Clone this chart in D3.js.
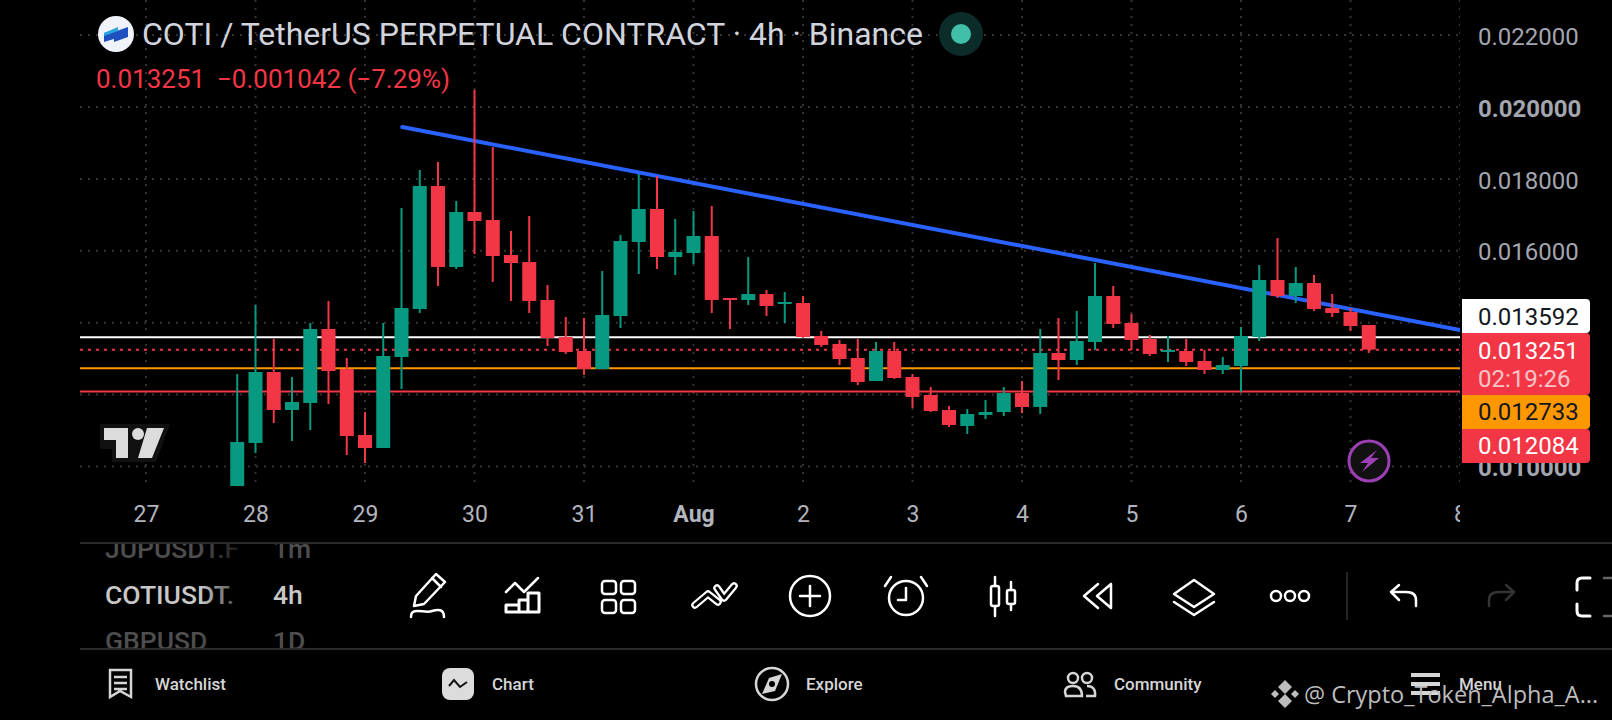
<!DOCTYPE html>
<html>
<head>
<meta charset="utf-8">
<title>COTIUSDT.P 4h</title>
<script src="https://cdn.jsdelivr.net/npm/d3@7"></script>
<style>
html, body { margin: 0; padding: 0; background: #000; overflow: hidden; }
svg { display: block; }
text { font-family: Roboto, sans-serif; }
</style>
</head>
<body>
<div id="chart"></div>
<script>
//--data--
var firstCandle = "2025-07-27T20:00:00Z";
var candleOpen = [
	0.009458, 0.010654, 0.012629, 0.011572, 0.011766, 0.013825, 0.012712, 0.010876, 0.010515, 0.013046, 0.014381,
	0.017802, 0.015549, 0.017079, 0.016857, 0.015883, 0.015688, 0.014631, 0.013602, 0.013213, 0.012712, 0.014186,
	0.016245, 0.017163, 0.015827, 0.015939, 0.016412, 0.014687, 0.014631, 0.014798, 0.014520, 0.014548, 0.013630,
	0.013408, 0.013018, 0.012378, 0.013213, 0.012490, 0.011989, 0.011572, 0.011127, 0.011433, 0.011516, 0.012044,
	0.011655, 0.013157, 0.012962, 0.013463, 0.014743, 0.013992, 0.013547, 0.013213, 0.013213, 0.012935, 0.012684,
	0.012796, 0.013602, 0.015188, 0.014743, 0.015104, 0.014409, 0.014298, 0.013936
];
var candleClose = [
	0.010681, 0.012629, 0.011572, 0.011794, 0.013825, 0.012656, 0.010848, 0.010515, 0.013074, 0.014409, 0.017802,
	0.015549, 0.017079, 0.016829, 0.015855, 0.015660, 0.014604, 0.013574, 0.013185, 0.012712, 0.014214, 0.016272,
	0.017163, 0.015827, 0.015967, 0.016412, 0.014631, 0.014631, 0.014798, 0.014464, 0.014576, 0.013602, 0.013380,
	0.012990, 0.012350, 0.013213, 0.012462, 0.011933, 0.011544, 0.011154, 0.011460, 0.011516, 0.012044, 0.011655,
	0.013157, 0.012962, 0.013491, 0.014743, 0.013964, 0.013519, 0.013129, 0.013241, 0.012907, 0.012684, 0.012823,
	0.013630, 0.015188, 0.014743, 0.015104, 0.014381, 0.014270, 0.013908, 0.013251
];
var candleHigh = [
	0.012573, 0.014492, 0.013547, 0.012490, 0.013992, 0.014604, 0.013018, 0.011516, 0.013992, 0.017190, 0.018247,
	0.018470, 0.017385, 0.020473, 0.018887, 0.016551, 0.016968, 0.015049, 0.014158, 0.014131, 0.015438, 0.016439,
	0.018136, 0.018081, 0.016884, 0.017107, 0.017246, 0.014687, 0.015827, 0.014910, 0.014854, 0.014743, 0.013769,
	0.013519, 0.013547, 0.013463, 0.013463, 0.012573, 0.012211, 0.011683, 0.011599, 0.011850, 0.012211, 0.012378,
	0.013825, 0.014131, 0.014325, 0.015660, 0.015021, 0.014242, 0.013658, 0.013630, 0.013547, 0.013241, 0.013046,
	0.013880, 0.015605, 0.016356, 0.015549, 0.015327, 0.014798, 0.014409, 0.013936
];
var candleLow = [
	0.009458, 0.010376, 0.011210, 0.010709, 0.011015, 0.011739, 0.010320, 0.010097, 0.010515, 0.012156, 0.014270,
	0.015021, 0.015494, 0.015911, 0.015132, 0.014604, 0.014270, 0.013352, 0.013129, 0.012545, 0.012712, 0.013853,
	0.015355, 0.015494, 0.015327, 0.015633, 0.014270, 0.013825, 0.014492, 0.014186, 0.013992, 0.013574, 0.013324,
	0.012823, 0.012267, 0.012378, 0.012434, 0.011627, 0.011516, 0.011099, 0.010904, 0.011321, 0.011405, 0.011488,
	0.011460, 0.012406, 0.012823, 0.013241, 0.013853, 0.013241, 0.013074, 0.012907, 0.012796, 0.012573, 0.012573,
	0.012072, 0.013491, 0.014687, 0.014548, 0.014325, 0.014158, 0.013769, 0.013157
];

var priceTicks = [0.010, 0.012, 0.014, 0.016, 0.018, 0.020, 0.022];
var hiddenPriceLabels = [0.012, 0.014]; // these sit under the price tags
var dayTicks = ["2025-07-27", "2025-07-28", "2025-07-29", "2025-07-30", "2025-07-31", "2025-08-01", "2025-08-02",
	"2025-08-03", "2025-08-04", "2025-08-05", "2025-08-06", "2025-08-07", "2025-08-08"];

var levelWhite = 0.013592, levelLast = 0.013251, levelOrange = 0.012733, levelRed = 0.012084;
var countdown = "02:19:26";

var trendTimes = ["2025-07-29T08:10:00Z", "2025-08-08T00:00:00Z"];
var trendPrices = [0.019444, 0.013797];

var symbolRows = ["JUPUSDT.F", "COTIUSDT.", "GBPUSD"];
var symbolFrames = ["1m", "4h", "1D"];
var navLabels = ["Watchlist", "Chart", "Explore", "Community", "Menu"];

//--sizes--
var width = 1612, height = 720;
var plotLeft = 80, plotRight = 1460, plotBottom = 482;
var red = "#f23645", green = "#089981", orange = "#ff9800", blue = "#2962ff";

var svg = d3.select("#chart").append("svg")
	.attr("width", width)
	.attr("height", height)
	.style("background", "#000");

var parseTime = function (s) { return new Date(s.length > 10 ? s : s + "T00:00:00Z"); };

var x = d3.scaleUtc()
	.domain([parseTime(dayTicks[0]), parseTime(dayTicks[dayTicks.length - 1])])
	.range([146, plotRight]);

var y = d3.scaleLinear()
	.domain([0.010, 0.020])
	.range([466.5, 107]);

var defs = svg.append("defs");
defs.append("clipPath").attr("id", "plot-clip")
	.append("rect").attr("x", plotLeft).attr("y", 0).attr("width", plotRight - plotLeft).attr("height", 528);

var plot = svg.append("g").attr("clip-path", "url(#plot-clip)");

//grid
plot.append("g").selectAll("line").data(priceTicks).join("line")
	.attr("x1", plotLeft).attr("x2", plotRight)
	.attr("y1", function (d) { return y(d); }).attr("y2", function (d) { return y(d); })
	.attr("stroke", "#333").attr("stroke-width", 2).attr("stroke-dasharray", "2 6");

plot.append("g").selectAll("line").data(dayTicks).join("line")
	.attr("x1", function (d) { return x(parseTime(d)); }).attr("x2", function (d) { return x(parseTime(d)); })
	.attr("y1", 0).attr("y2", plotBottom)
	.attr("stroke", "#333").attr("stroke-width", 2).attr("stroke-dasharray", "2 6");

//levels
var levels = [
	{ p: levelWhite, c: "#fff", dash: null },
	{ p: levelLast, c: red, dash: "3 5" },
	{ p: levelOrange, c: orange, dash: null },
	{ p: levelRed, c: red, dash: null }
];
plot.append("g").selectAll("line").data(levels).join("line")
	.attr("x1", plotLeft).attr("x2", plotRight)
	.attr("y1", function (d) { return y(d.p); }).attr("y2", function (d) { return y(d.p); })
	.attr("stroke", function (d) { return d.c; })
	.attr("stroke-width", 2)
	.attr("stroke-dasharray", function (d) { return d.dash; });

//trend line
plot.append("line")
	.attr("x1", x(parseTime(trendTimes[0]))).attr("y1", y(trendPrices[0]))
	.attr("x2", x(parseTime(trendTimes[1]))).attr("y2", y(trendPrices[1]))
	.attr("stroke", blue).attr("stroke-width", 4).attr("stroke-linecap", "round");

//candles
var candles = candleOpen.map(function (o, i) {
	return {
		t: d3.utcHour.offset(parseTime(firstCandle), i * 4),
		o: o, c: candleClose[i], h: candleHigh[i], l: candleLow[i]
	};
});
var bodyWidth = 14;
var candle = plot.append("g").selectAll("g").data(candles).join("g")
	.attr("fill", function (d) { return d.c >= d.o ? green : red; });
candle.append("rect")
	.attr("x", function (d) { return x(d.t) - 1; })
	.attr("width", 2)
	.attr("y", function (d) { return y(d.h); })
	.attr("height", function (d) { return y(d.l) - y(d.h); });
candle.append("rect")
	.attr("x", function (d) { return x(d.t) - bodyWidth / 2; })
	.attr("width", bodyWidth)
	.attr("y", function (d) { return y(Math.max(d.o, d.c)); })
	.attr("height", function (d) { return Math.max(2, Math.abs(y(d.o) - y(d.c))); });

//axes
var yAxis = d3.axisRight(y)
	.tickValues(priceTicks.filter(function (d) { return hiddenPriceLabels.indexOf(d) < 0; }))
	.tickSize(0).tickPadding(0).tickFormat(d3.format(".6f"));
var yG = svg.append("g").attr("transform", "translate(1478,1.5)").call(yAxis);
yG.select(".domain").remove();
yG.selectAll("text")
	.style("font-family", "Roboto, sans-serif")
	.style("font-size", "24px")
	.attr("fill", "#a3a6af")
	.style("font-weight", function (d) { return d === 0.020 || d === 0.010 ? 700 : 400; });

var xAxis = d3.axisBottom(x).tickValues(dayTicks.map(parseTime)).tickSize(0).tickPadding(0)
	.tickFormat(function (d) {
		if (d.getUTCDate() === 1) return "Aug";
		return d.getUTCDate();
	});
var xClip = svg.append("g").attr("clip-path", "url(#plot-clip)");
var xG = xClip.append("g").attr("transform", "translate(0,506)").call(xAxis);
xG.select(".domain").remove();
xG.selectAll("text")
	.style("font-family", "Roboto, sans-serif")
	.style("font-size", "23px")
	.attr("fill", "#b2b5be")
	.style("font-weight", function (d) { return d.getUTCDate() === 1 ? 700 : 400; });

//price tags, stacked so they do not overlap
function rightRound(x0, y0, w, h, r) {
	return "M" + x0 + "," + y0 + "H" + (x0 + w - r) + "Q" + (x0 + w) + "," + y0 + " " + (x0 + w) + "," + (y0 + r) +
		"V" + (y0 + h - r) + "Q" + (x0 + w) + "," + (y0 + h) + " " + (x0 + w - r) + "," + (y0 + h) + "H" + x0 + "Z";
}
var tagFmt = d3.format(".6f");
var tags = svg.append("g");
tags.append("path").attr("d", rightRound(1462, 299, 128, 34, 4)).attr("fill", "#fff");
tags.append("path").attr("d", rightRound(1462, 333, 128, 62, 4)).attr("fill", red);
tags.append("path").attr("d", rightRound(1462, 395, 128, 34, 4)).attr("fill", orange);
tags.append("path").attr("d", rightRound(1462, 429, 128, 34, 4)).attr("fill", red);
function tagText(t, cy, c, op) {
	tags.append("text").attr("x", 1478).attr("y", cy).attr("dy", "0.36em")
		.attr("fill", c).attr("opacity", op || 1).style("font-size", "24px").text(t);
}
tagText(tagFmt(levelWhite), 316, "#131722");
tagText(tagFmt(levelLast), 350, "#fff");
tagText(countdown, 378, "#fff", 0.7);
tagText(tagFmt(levelOrange), 411.5, "#131722");
tagText(tagFmt(levelRed), 445.5, "#fff");

//header
var head = svg.append("g");
head.append("circle").attr("cx", 116).attr("cy", 34).attr("r", 18).attr("fill", "#f0f3fa");
head.append("path").attr("d", "M104,33 L117,29 V38 L104,42Z").attr("fill", "#1f50c0");
head.append("path").attr("d", "M114,32 L128,27 V37 L114,42Z").attr("fill", "#1f50c0");
head.append("path").attr("d", "M104,33 L118,27 V31 L104,36Z").attr("fill", "#29a5dc");
head.append("text").attr("x", 142).attr("y", 45).attr("fill", "#d1d4dc").style("font-size", "32px")
	.text("COTI / TetherUS PERPETUAL CONTRACT · 4h · Binance");
head.append("text").attr("x", 96).attr("y", 88).attr("fill", red).style("font-size", "26px")
	.text("0.013251");
head.append("text").attr("x", 217).attr("y", 88).attr("fill", red).style("font-size", "26px")
	.text("\u22120.001042 (\u22127.29%)");
head.append("circle").attr("cx", 961).attr("cy", 34).attr("r", 22).attr("fill", "#0c2c29");
head.append("circle").attr("cx", 961).attr("cy", 34).attr("r", 10).attr("fill", "#41bfa8");

//tradingview mark
var tv = svg.append("g");
tv.append("path").attr("d", "M100,424 H170 L156,462 H112 V449 H100Z").attr("fill", "#111");
tv.append("path").attr("d", "M104,428 H128 V458 H116 V440 H104Z").attr("fill", "#dcdcdc");
tv.append("circle").attr("cx", 138).attr("cy", 434).attr("r", 6).attr("fill", "#dcdcdc");
tv.append("path").attr("d", "M147,428 H164 L152,458 H138Z").attr("fill", "#dcdcdc");

//lightning button
var bolt = svg.append("g");
bolt.append("circle").attr("cx", 1369).attr("cy", 461).attr("r", 20).attr("fill", "#111").attr("stroke", "#9c3fb5").attr("stroke-width", 3);
bolt.append("path").attr("d", "M1377,450 L1360,463 H1368 L1362,472 L1379,458 H1371Z").attr("fill", "#9c3fb5");

//toolbar separators
var sep = svg.append("g").attr("stroke", "#2a2a2a").attr("stroke-width", 2);
sep.append("line").attr("x1", plotLeft).attr("x2", width).attr("y1", 543).attr("y2", 543);
sep.append("line").attr("x1", plotLeft).attr("x2", width).attr("y1", 649).attr("y2", 649);
svg.append("line").attr("x1", 1347).attr("x2", 1347).attr("y1", 572).attr("y2", 620).attr("stroke", "#333").attr("stroke-width", 1.5);

//symbol list, rows fade and get cut by the toolbar edges
defs.append("clipPath").attr("id", "list-clip")
	.append("rect").attr("x", 80).attr("y", 544).attr("width", 300).attr("height", 104);
var fade = defs.append("linearGradient").attr("id", "name-fade")
	.attr("gradientUnits", "userSpaceOnUse").attr("x1", 200).attr("x2", 240).attr("y1", 0).attr("y2", 0);
fade.append("stop").attr("offset", 0).attr("stop-color", "#c8c8c8");
fade.append("stop").attr("offset", 1).attr("stop-color", "#444");
var fadeDim = defs.append("linearGradient").attr("id", "name-fade-dim")
	.attr("gradientUnits", "userSpaceOnUse").attr("x1", 200).attr("x2", 240).attr("y1", 0).attr("y2", 0);
fadeDim.append("stop").attr("offset", 0).attr("stop-color", "#4e4e4e");
fadeDim.append("stop").attr("offset", 1).attr("stop-color", "#1c1c1c");
var list = svg.append("g").attr("clip-path", "url(#list-clip)").style("font-size", "26.5px");
var rowY = [558, 604, 650], rowC = ["#4e4e4e", "#c8c8c8", "#4e4e4e"], rowFade = ["url(#name-fade-dim)", "url(#name-fade)", "url(#name-fade-dim)"];
symbolRows.forEach(function (s, i) {
	list.append("text").attr("x", 105).attr("y", rowY[i]).attr("fill", rowFade[i]).style("font-weight", 500).text(s);
	list.append("text").attr("x", 273).attr("y", rowY[i]).attr("fill", rowC[i]).style("font-weight", 500).text(symbolFrames[i]);
});

//toolbar icons
var ic = svg.append("g").attr("fill", "none").attr("stroke", "#fff").attr("stroke-width", 2.5)
	.attr("stroke-linejoin", "round").attr("stroke-linecap", "round");
// pencil
ic.append("path").attr("d", "M416,596 L436,574 L445,582 L424,604 L414,606Z M432,578 L441,587");
ic.append("path").attr("d", "M411,617 C411,606 425,614 432,611 C438,609 444,609 444,617");
// indicators
ic.append("path").attr("d", "M506,592 L515,583 L524,592 L538,578");
ic.append("path").attr("stroke-width", 3).attr("d", "M506,612 V605 H519 V612 M519,612 V600 H528 V612 M528,612 V593 H539 V612 H506");
// grid of four
[602, 621].forEach(function (gx) {
	[581, 600].forEach(function (gy) {
		ic.append("rect").attr("x", gx).attr("y", gy).attr("width", 14).attr("height", 13).attr("rx", 3);
	});
});
// double chevron, outline made of a wide white stroke with a black one on top
var chevrons = "M695,605 L708,594 L718,602 M717,588 L724,598 L734,586";
ic.append("path").attr("d", chevrons).attr("stroke-width", 7.5);
ic.append("path").attr("d", chevrons).attr("stroke", "#000").attr("stroke-width", 3);
// plus
ic.append("circle").attr("cx", 810).attr("cy", 596).attr("r", 20);
ic.append("path").attr("d", "M800,596 H820 M810,586 V606");
// alarm
ic.append("circle").attr("cx", 906).attr("cy", 598).attr("r", 17);
ic.append("path").attr("d", "M906,588 V600 H898 M885,586 L891,577 M927,586 L921,577");
// candles
ic.append("path").attr("d", "M995,577 V586 M995,606 V616 M1011,582 V590 M1011,604 V610");
ic.append("rect").attr("x", 991).attr("y", 586).attr("width", 8).attr("height", 20).attr("rx", 2);
ic.append("rect").attr("x", 1007).attr("y", 590).attr("width", 8).attr("height", 14).attr("rx", 2);
// rewind
ic.append("path").attr("d", "M1098,584 L1084,596 L1098,608 M1111,584 L1097,596 L1111,608 V584");
// layers
ic.append("path").attr("d", "M1194,580 L1214,594 L1194,607 L1174,594Z M1174,602 L1194,615 L1214,602");
// dots
[1276, 1290, 1304].forEach(function (cx) {
	ic.append("circle").attr("cx", cx).attr("cy", 596).attr("r", 5);
});
// undo
ic.append("path").attr("d", "M1416,606 V600 Q1416,592 1406,592 H1391 M1399,585 L1391,592 L1399,600");
// redo
ic.append("path").attr("d", "M1489,606 V600 Q1489,592 1499,592 H1514 M1506,585 L1514,592 L1506,600").attr("stroke", "#333");
// fullscreen corners
ic.append("path").attr("stroke-width", 3).attr("d", "M1590,578 H1582 Q1577,578 1577,583 V590 M1577,604 V611 Q1577,616 1582,616 H1590");
ic.append("path").attr("d", "M1604,578 H1612 M1604,616 H1612").attr("stroke", "#666");

//bottom nav
var nav = svg.append("g");
var navX = [155, 492, 806, 1114, 1459];
navLabels.forEach(function (s, i) {
	nav.append("text").attr("x", navX[i]).attr("y", 689.5).attr("fill", "#d6d6d6")
		.style("font-size", "17px").style("font-weight", 500).text(s);
});
var ni = nav.append("g").attr("fill", "none").attr("stroke", "#d6d6d6").attr("stroke-width", 2.5);
ni.append("path").attr("d", "M110,670 H131 V697 L120,691 L110,697Z M114,677 H127 M114,683 H127 M114,689 H127");
nav.append("rect").attr("x", 442).attr("y", 668).attr("width", 32).attr("height", 32).attr("rx", 8).attr("fill", "#dcdcdc");
nav.append("path").attr("d", "M449,686 L454,680 L460,687 L467,682").attr("fill", "none").attr("stroke", "#111").attr("stroke-width", 2);
ni.append("circle").attr("cx", 772).attr("cy", 684).attr("r", 16);
nav.append("path").attr("d", "M782,674 L775,691 L762,694 L769,678Z").attr("fill", "#d6d6d6");
nav.append("circle").attr("cx", 772).attr("cy", 684).attr("r", 3).attr("fill", "#000");
ni.append("circle").attr("cx", 1073).attr("cy", 678).attr("r", 5);
ni.append("circle").attr("cx", 1087).attr("cy", 678).attr("r", 5);
ni.append("path").attr("d", "M1066,696 H1082 Q1082,686 1073,686 Q1065,686 1065,692 Z M1086,696 H1095 Q1096,686 1087,686");
nav.append("path").attr("d", "M1411,673 H1440 V677 H1411Z M1411,682 H1440 V686 H1411Z M1411,691 H1440 V695 H1411Z").attr("fill", "#d6d6d6");

//watermark
var wm = svg.append("g").attr("fill", "#bdbdbd");
wm.append("path").attr("d", "M1285,680 L1292,687 L1285,694 L1278,687Z M1285,694 L1292,701 L1285,708 L1278,701Z M1275,690 L1279,694 L1275,698 L1271,694Z M1295,690 L1299,694 L1295,698 L1291,694Z");
wm.append("text").attr("x", 1304).attr("y", 703).style("font-family", "'Open Sans', sans-serif").style("font-size", "23.5px")
	.text("@ Crypto_Token_Alpha_A...");
</script>
</body>
</html>
